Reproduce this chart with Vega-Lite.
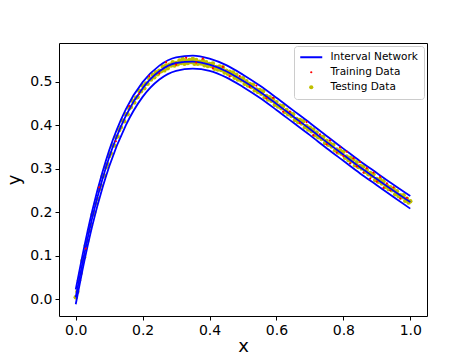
{
  "$schema": "https://vega.github.io/schema/vega-lite/v6.json",
  "width": 368,
  "height": 273,
  "autosize": "none",
  "padding": {"left": 59, "top": 43, "right": 47, "bottom": 39},
  "background": "white",
  "config": {
    "font": "DejaVu Sans",
    "view": {"stroke": "black", "strokeWidth": 1},
    "axis": {"grid": false, "domain": false, "tickColor": "black", "tickSize": 4, "labelColor": "black", "labelFontSize": 14, "labelFont": "DejaVu Sans", "titleFont": "DejaVu Sans", "titleFontSize": 18, "titleFontWeight": "normal", "titleColor": "black", "labelPadding": 3},
    "legend": {
      "orient": "top-right", "offset": 3, "padding": 6,
      "strokeColor": "#cccccc", "fillColor": "white", "cornerRadius": 3,
      "labelFont": "DejaVu Sans", "labelFontSize": 10.5, "labelColor": "black",
      "symbolSize": 100, "symbolOffset": 6, "labelOffset": 14, "rowPadding": 4
    }
  },
  "datasets": {
    "lines": [
      {"x": 0, "y": 0.022, "s": "upper"}, {"x": 0.02, "y": 0.100, "s": "upper"}, {"x": 0.05, "y": 0.205, "s": "upper"}, {"x": 0.08, "y": 0.292, "s": "upper"}, {"x": 0.1, "y": 0.342, "s": "upper"}, {"x": 0.15, "y": 0.437, "s": "upper"}, {"x": 0.2, "y": 0.499, "s": "upper"}, {"x": 0.25, "y": 0.537, "s": "upper"}, {"x": 0.3, "y": 0.556, "s": "upper"}, {"x": 0.35, "y": 0.560, "s": "upper"}, {"x": 0.4, "y": 0.553, "s": "upper"}, {"x": 0.45, "y": 0.538, "s": "upper"}, {"x": 0.5, "y": 0.516, "s": "upper"}, {"x": 0.55, "y": 0.491, "s": "upper"}, {"x": 0.6, "y": 0.463, "s": "upper"}, {"x": 0.65, "y": 0.434, "s": "upper"}, {"x": 0.7, "y": 0.405, "s": "upper"}, {"x": 0.75, "y": 0.375, "s": "upper"}, {"x": 0.8, "y": 0.346, "s": "upper"}, {"x": 0.85, "y": 0.317, "s": "upper"}, {"x": 0.9, "y": 0.290, "s": "upper"}, {"x": 0.95, "y": 0.263, "s": "upper"}, {"x": 1.0, "y": 0.237, "s": "upper"},
      {"x": 0, "y": 0.004, "s": "center"}, {"x": 0.02, "y": 0.082, "s": "center"}, {"x": 0.05, "y": 0.189, "s": "center"}, {"x": 0.08, "y": 0.276, "s": "center"}, {"x": 0.1, "y": 0.326, "s": "center"}, {"x": 0.15, "y": 0.422, "s": "center"}, {"x": 0.2, "y": 0.485, "s": "center"}, {"x": 0.25, "y": 0.524, "s": "center"}, {"x": 0.3, "y": 0.543, "s": "center"}, {"x": 0.35, "y": 0.546, "s": "center"}, {"x": 0.4, "y": 0.539, "s": "center"}, {"x": 0.45, "y": 0.524, "s": "center"}, {"x": 0.5, "y": 0.502, "s": "center"}, {"x": 0.55, "y": 0.477, "s": "center"}, {"x": 0.6, "y": 0.449, "s": "center"}, {"x": 0.65, "y": 0.420, "s": "center"}, {"x": 0.7, "y": 0.391, "s": "center"}, {"x": 0.75, "y": 0.361, "s": "center"}, {"x": 0.8, "y": 0.332, "s": "center"}, {"x": 0.85, "y": 0.303, "s": "center"}, {"x": 0.9, "y": 0.276, "s": "center"}, {"x": 0.95, "y": 0.249, "s": "center"}, {"x": 1.0, "y": 0.223, "s": "center"},
      {"x": 0, "y": -0.012, "s": "lower"}, {"x": 0.02, "y": 0.066, "s": "lower"}, {"x": 0.05, "y": 0.170, "s": "lower"}, {"x": 0.08, "y": 0.256, "s": "lower"}, {"x": 0.1, "y": 0.305, "s": "lower"}, {"x": 0.15, "y": 0.400, "s": "lower"}, {"x": 0.2, "y": 0.465, "s": "lower"}, {"x": 0.25, "y": 0.505, "s": "lower"}, {"x": 0.3, "y": 0.525, "s": "lower"}, {"x": 0.35, "y": 0.530, "s": "lower"}, {"x": 0.4, "y": 0.525, "s": "lower"}, {"x": 0.45, "y": 0.510, "s": "lower"}, {"x": 0.5, "y": 0.488, "s": "lower"}, {"x": 0.55, "y": 0.463, "s": "lower"}, {"x": 0.6, "y": 0.435, "s": "lower"}, {"x": 0.65, "y": 0.406, "s": "lower"}, {"x": 0.7, "y": 0.377, "s": "lower"}, {"x": 0.75, "y": 0.347, "s": "lower"}, {"x": 0.8, "y": 0.318, "s": "lower"}, {"x": 0.85, "y": 0.289, "s": "lower"}, {"x": 0.9, "y": 0.262, "s": "lower"}, {"x": 0.95, "y": 0.235, "s": "lower"}, {"x": 1.0, "y": 0.208, "s": "lower"}
    ],
    "test": [
      {"x": 0.00, "y": 0.004}, {"x": 0.01, "y": 0.043}, {"x": 0.02, "y": 0.088}, {"x": 0.03, "y": 0.123}, {"x": 0.04, "y": 0.157}, {"x": 0.05, "y": 0.194}, {"x": 0.06, "y": 0.220}, {"x": 0.07, "y": 0.253}, {"x": 0.08, "y": 0.282}, {"x": 0.09, "y": 0.303},
      {"x": 0.10, "y": 0.329}, {"x": 0.11, "y": 0.353}, {"x": 0.12, "y": 0.373}, {"x": 0.13, "y": 0.389}, {"x": 0.14, "y": 0.411}, {"x": 0.15, "y": 0.425}, {"x": 0.16, "y": 0.439}, {"x": 0.17, "y": 0.456}, {"x": 0.18, "y": 0.463}, {"x": 0.19, "y": 0.479},
      {"x": 0.20, "y": 0.491}, {"x": 0.21, "y": 0.496}, {"x": 0.22, "y": 0.507}, {"x": 0.23, "y": 0.516}, {"x": 0.24, "y": 0.522}, {"x": 0.25, "y": 0.525}, {"x": 0.26, "y": 0.535}, {"x": 0.27, "y": 0.537}, {"x": 0.28, "y": 0.539}, {"x": 0.29, "y": 0.545},
      {"x": 0.30, "y": 0.543}, {"x": 0.31, "y": 0.549}, {"x": 0.32, "y": 0.552}, {"x": 0.33, "y": 0.548}, {"x": 0.34, "y": 0.550}, {"x": 0.35, "y": 0.552}, {"x": 0.36, "y": 0.550}, {"x": 0.37, "y": 0.546}, {"x": 0.38, "y": 0.549}, {"x": 0.39, "y": 0.545},
      {"x": 0.40, "y": 0.541}, {"x": 0.41, "y": 0.542}, {"x": 0.42, "y": 0.534}, {"x": 0.43, "y": 0.535}, {"x": 0.44, "y": 0.533}, {"x": 0.45, "y": 0.525}, {"x": 0.46, "y": 0.523}, {"x": 0.47, "y": 0.521}, {"x": 0.48, "y": 0.516}, {"x": 0.49, "y": 0.508},
      {"x": 0.50, "y": 0.508}, {"x": 0.51, "y": 0.501}, {"x": 0.52, "y": 0.495}, {"x": 0.53, "y": 0.493}, {"x": 0.54, "y": 0.482}, {"x": 0.55, "y": 0.481}, {"x": 0.56, "y": 0.478}, {"x": 0.57, "y": 0.467}, {"x": 0.58, "y": 0.464}, {"x": 0.59, "y": 0.460},
      {"x": 0.60, "y": 0.453}, {"x": 0.61, "y": 0.445}, {"x": 0.62, "y": 0.444}, {"x": 0.63, "y": 0.435}, {"x": 0.64, "y": 0.428}, {"x": 0.65, "y": 0.425}, {"x": 0.66, "y": 0.414}, {"x": 0.67, "y": 0.412}, {"x": 0.68, "y": 0.409}, {"x": 0.69, "y": 0.398},
      {"x": 0.70, "y": 0.394}, {"x": 0.71, "y": 0.390}, {"x": 0.72, "y": 0.383}, {"x": 0.73, "y": 0.374}, {"x": 0.74, "y": 0.373}, {"x": 0.75, "y": 0.364}, {"x": 0.76, "y": 0.358}, {"x": 0.77, "y": 0.355}, {"x": 0.78, "y": 0.344}, {"x": 0.79, "y": 0.342},
      {"x": 0.80, "y": 0.339}, {"x": 0.81, "y": 0.328}, {"x": 0.82, "y": 0.325}, {"x": 0.83, "y": 0.321}, {"x": 0.84, "y": 0.315}, {"x": 0.85, "y": 0.306}, {"x": 0.86, "y": 0.305}, {"x": 0.87, "y": 0.297}, {"x": 0.88, "y": 0.290}, {"x": 0.89, "y": 0.287},
      {"x": 0.90, "y": 0.276}, {"x": 0.91, "y": 0.275}, {"x": 0.92, "y": 0.271}, {"x": 0.93, "y": 0.261}, {"x": 0.94, "y": 0.257}, {"x": 0.95, "y": 0.254}, {"x": 0.96, "y": 0.248}, {"x": 0.97, "y": 0.239}, {"x": 0.98, "y": 0.239}, {"x": 0.99, "y": 0.231}, {"x": 1.00, "y": 0.225},
      {"x": 0.005, "y": 0.017}, {"x": 0.015, "y": 0.060}, {"x": 0.025, "y": 0.096}, {"x": 0.035, "y": 0.134}, {"x": 0.045, "y": 0.170}, {"x": 0.055, "y": 0.199}, {"x": 0.065, "y": 0.230}, {"x": 0.075, "y": 0.261}, {"x": 0.085, "y": 0.284}, {"x": 0.095, "y": 0.310},
      {"x": 0.105, "y": 0.335}, {"x": 0.115, "y": 0.353}, {"x": 0.125, "y": 0.374}, {"x": 0.135, "y": 0.395}, {"x": 0.145, "y": 0.409}, {"x": 0.155, "y": 0.425}, {"x": 0.165, "y": 0.442}, {"x": 0.175, "y": 0.452}, {"x": 0.185, "y": 0.465}, {"x": 0.195, "y": 0.478},
      {"x": 0.205, "y": 0.485}, {"x": 0.215, "y": 0.495}, {"x": 0.225, "y": 0.505}, {"x": 0.235, "y": 0.510}, {"x": 0.245, "y": 0.517}, {"x": 0.255, "y": 0.524}, {"x": 0.265, "y": 0.526}, {"x": 0.275, "y": 0.531}, {"x": 0.285, "y": 0.537}, {"x": 0.295, "y": 0.537},
      {"x": 0.305, "y": 0.540}, {"x": 0.315, "y": 0.543}, {"x": 0.325, "y": 0.541}, {"x": 0.335, "y": 0.543}, {"x": 0.345, "y": 0.545}, {"x": 0.355, "y": 0.541}, {"x": 0.365, "y": 0.541}, {"x": 0.375, "y": 0.542}, {"x": 0.385, "y": 0.538}, {"x": 0.395, "y": 0.536},
      {"x": 0.405, "y": 0.536}, {"x": 0.415, "y": 0.530}, {"x": 0.425, "y": 0.528}, {"x": 0.435, "y": 0.527}, {"x": 0.445, "y": 0.521}, {"x": 0.455, "y": 0.518}, {"x": 0.465, "y": 0.516}, {"x": 0.475, "y": 0.509}, {"x": 0.485, "y": 0.505}, {"x": 0.495, "y": 0.503},
      {"x": 0.505, "y": 0.495}, {"x": 0.515, "y": 0.491}, {"x": 0.525, "y": 0.488}, {"x": 0.535, "y": 0.480}, {"x": 0.545, "y": 0.476}, {"x": 0.555, "y": 0.472}, {"x": 0.565, "y": 0.464}, {"x": 0.575, "y": 0.459}, {"x": 0.585, "y": 0.456}, {"x": 0.595, "y": 0.447},
      {"x": 0.605, "y": 0.443}, {"x": 0.615, "y": 0.439}, {"x": 0.625, "y": 0.430}, {"x": 0.635, "y": 0.425}, {"x": 0.645, "y": 0.421}, {"x": 0.655, "y": 0.412}, {"x": 0.665, "y": 0.407}, {"x": 0.675, "y": 0.404}, {"x": 0.685, "y": 0.395}, {"x": 0.695, "y": 0.390},
      {"x": 0.705, "y": 0.386}, {"x": 0.715, "y": 0.377}, {"x": 0.725, "y": 0.372}, {"x": 0.735, "y": 0.368}, {"x": 0.745, "y": 0.359}, {"x": 0.755, "y": 0.355}, {"x": 0.765, "y": 0.351}, {"x": 0.775, "y": 0.342}, {"x": 0.785, "y": 0.337}, {"x": 0.795, "y": 0.334},
      {"x": 0.805, "y": 0.325}, {"x": 0.815, "y": 0.320}, {"x": 0.825, "y": 0.317}, {"x": 0.835, "y": 0.308}, {"x": 0.845, "y": 0.304}, {"x": 0.855, "y": 0.300}, {"x": 0.865, "y": 0.292}, {"x": 0.875, "y": 0.287}, {"x": 0.885, "y": 0.283}, {"x": 0.895, "y": 0.274},
      {"x": 0.905, "y": 0.270}, {"x": 0.915, "y": 0.266}, {"x": 0.925, "y": 0.258}, {"x": 0.935, "y": 0.253}, {"x": 0.945, "y": 0.250}, {"x": 0.955, "y": 0.241}, {"x": 0.965, "y": 0.237}, {"x": 0.975, "y": 0.234}, {"x": 0.985, "y": 0.226}, {"x": 0.995, "y": 0.222}
    ],
    "train": [
      {"x": 0.03, "y": 0.116}, {"x": 0.07, "y": 0.257}, {"x": 0.12, "y": 0.363}, {"x": 0.16, "y": 0.444}, {"x": 0.19, "y": 0.472}, {"x": 0.22, "y": 0.513}, {"x": 0.25, "y": 0.519}, {"x": 0.27, "y": 0.545}, {"x": 0.30, "y": 0.539}, {"x": 0.33, "y": 0.555},
      {"x": 0.36, "y": 0.544}, {"x": 0.38, "y": 0.553}, {"x": 0.41, "y": 0.531}, {"x": 0.44, "y": 0.534}, {"x": 0.46, "y": 0.512}, {"x": 0.49, "y": 0.513}, {"x": 0.52, "y": 0.488}, {"x": 0.54, "y": 0.491}, {"x": 0.57, "y": 0.462}, {"x": 0.59, "y": 0.463},
      {"x": 0.62, "y": 0.431}, {"x": 0.64, "y": 0.431}, {"x": 0.67, "y": 0.405}, {"x": 0.69, "y": 0.407}, {"x": 0.71, "y": 0.377}, {"x": 0.73, "y": 0.379}, {"x": 0.75, "y": 0.356}, {"x": 0.76, "y": 0.365}, {"x": 0.78, "y": 0.337}, {"x": 0.79, "y": 0.349},
      {"x": 0.80, "y": 0.329}, {"x": 0.81, "y": 0.339}, {"x": 0.82, "y": 0.312}, {"x": 0.83, "y": 0.324}, {"x": 0.84, "y": 0.305}, {"x": 0.85, "y": 0.315}, {"x": 0.86, "y": 0.291}, {"x": 0.87, "y": 0.301}, {"x": 0.88, "y": 0.277}, {"x": 0.89, "y": 0.291},
      {"x": 0.90, "y": 0.270}, {"x": 0.91, "y": 0.281}, {"x": 0.92, "y": 0.256}, {"x": 0.93, "y": 0.266}, {"x": 0.94, "y": 0.250}, {"x": 0.95, "y": 0.257}, {"x": 0.97, "y": 0.231}, {"x": 0.99, "y": 0.233}
    ]
  },
  "encoding": {
    "x": {"field": "x", "type": "quantitative", "scale": {"domain": [-0.05, 1.05], "nice": false, "zero": false}, "axis": {"values": [0, 0.2, 0.4, 0.6, 0.8, 1.0], "format": ".1f", "title": "x", "titlePadding": 0}},
    "y": {"field": "y", "type": "quantitative", "scale": {"domain": [-0.039, 0.589], "nice": false, "zero": false}, "axis": {"values": [0, 0.1, 0.2, 0.3, 0.4, 0.5], "format": ".1f", "title": "y", "titlePadding": 6}}
  },
  "layer": [
    {
      "data": {"name": "test"},
      "mark": {"type": "point", "filled": true, "size": 20, "opacity": 1},
      "encoding": {
        "color": {"datum": "Testing Data", "type": "nominal", "scale": {"domain": ["Interval Network", "Training Data", "Testing Data"], "range": ["#0000ff", "#ff0000", "#bfbf00"]},
          "legend": {
            "title": null,
            "encode": {"symbols": {"update": {
              "shape": {"signal": "datum.value === 'Interval Network' ? 'M-2.2,0H2.2' : 'circle'"},
              "size": {"signal": "datum.value === 'Interval Network' ? 100 : datum.value === 'Training Data' ? 5 : 18"},
              "strokeWidth": {"signal": "datum.value === 'Interval Network' ? 2 : 0"},
              "stroke": {"signal": "datum.value === 'Interval Network' ? '#0000ff' : 'transparent'"},
              "fill": {"signal": "datum.value === 'Training Data' ? '#ff0000' : datum.value === 'Testing Data' ? '#bfbf00' : 'transparent'"},
              "opacity": {"value": 1}
            }}}
          }}
      }
    },
    {
      "data": {"name": "lines"},
      "mark": {"type": "line", "strokeWidth": 1.8, "interpolate": "monotone"},
      "encoding": {
        "detail": {"field": "s", "type": "nominal"},
        "color": {"datum": "Interval Network", "type": "nominal",
          "legend": {
            "title": null,
            "encode": {"symbols": {"update": {
              "shape": {"signal": "datum.value === 'Interval Network' ? 'M-2.2,0H2.2' : 'circle'"},
              "size": {"signal": "datum.value === 'Interval Network' ? 100 : datum.value === 'Training Data' ? 5 : 18"},
              "strokeWidth": {"signal": "datum.value === 'Interval Network' ? 2 : 0"},
              "stroke": {"signal": "datum.value === 'Interval Network' ? '#0000ff' : 'transparent'"},
              "fill": {"signal": "datum.value === 'Training Data' ? '#ff0000' : datum.value === 'Testing Data' ? '#bfbf00' : 'transparent'"},
              "opacity": {"value": 1}
            }}}
          }}
      }
    },
    {
      "data": {"name": "train"},
      "mark": {"type": "point", "filled": true, "size": 5, "opacity": 1},
      "encoding": {
        "color": {"datum": "Training Data", "type": "nominal",
          "legend": {
            "title": null,
            "encode": {"symbols": {"update": {
              "shape": {"signal": "datum.value === 'Interval Network' ? 'M-2.2,0H2.2' : 'circle'"},
              "size": {"signal": "datum.value === 'Interval Network' ? 100 : datum.value === 'Training Data' ? 5 : 18"},
              "strokeWidth": {"signal": "datum.value === 'Interval Network' ? 2 : 0"},
              "stroke": {"signal": "datum.value === 'Interval Network' ? '#0000ff' : 'transparent'"},
              "fill": {"signal": "datum.value === 'Training Data' ? '#ff0000' : datum.value === 'Testing Data' ? '#bfbf00' : 'transparent'"},
              "opacity": {"value": 1}
            }}}
          }}
      }
    }
  ]
}
